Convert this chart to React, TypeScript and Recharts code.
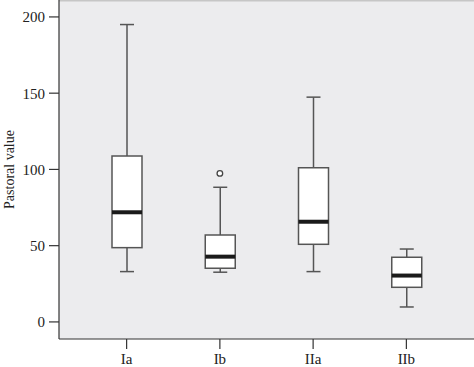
import React from 'react';
import { ComposedChart, Bar, Scatter, XAxis, YAxis, CartesianGrid, ReferenceLine } from 'recharts';

const categories = ['Ia', 'Ib', 'IIa', 'IIb'];
const whiskerLow = [33, 32.6, 33, 9.8];
const q1 = [48.7, 35.2, 50.9, 22.7];
const median = [71.9, 42.8, 65.7, 30.4];
const q3 = [108.8, 57, 101.1, 42.4];
const whiskerHigh = [195, 88.3, 147.4, 47.8];
const outliers: (number | null)[] = [null, 97.4, null, null];
const yTicks = [0, 50, 100, 150, 200];

const data = categories.map((c, i) => ({
  cat: c,
  range: [whiskerLow[i], whiskerHigh[i]],
  low: whiskerLow[i],
  q1: q1[i],
  median: median[i],
  q3: q3[i],
  high: whiskerHigh[i],
  outlier: outliers[i],
}));

const FONT = '"Liberation Serif", "Times New Roman", serif';
const STROKE = '#555';

const BoxShape = (props: any) => {
  const { x, y, width, height, payload } = props;
  if (x == null || y == null || !payload) return <g />;
  const top = Math.min(y, y + height);
  const bottom = Math.max(y, y + height);
  const lo = payload.low;
  const hi = payload.high;
  const pix = (v: number) => bottom - ((v - lo) / (hi - lo)) * (bottom - top);
  const cx = x + width / 2;
  const capHalf = 7;
  const yq1 = pix(payload.q1);
  const yq3 = pix(payload.q3);
  const ymed = pix(payload.median);
  return (
    <g>
      <line x1={cx} x2={cx} y1={top} y2={yq3} stroke={STROKE} strokeWidth={1.5} />
      <line x1={cx} x2={cx} y1={yq1} y2={bottom} stroke={STROKE} strokeWidth={1.5} />
      <line x1={cx - capHalf} x2={cx + capHalf} y1={top} y2={top} stroke={STROKE} strokeWidth={1.5} />
      <line x1={cx - capHalf} x2={cx + capHalf} y1={bottom} y2={bottom} stroke={STROKE} strokeWidth={1.5} />
      <rect x={x} y={yq3} width={width} height={yq1 - yq3} fill="#ffffff" stroke={STROKE} strokeWidth={1.5} />
      <line x1={x} x2={x + width} y1={ymed} y2={ymed} stroke="#1a1a1a" strokeWidth={4} />
    </g>
  );
};

const OutlierShape = (props: any) => {
  const { cx, cy, payload } = props;
  if (!payload || payload.outlier == null || cx == null || cy == null || isNaN(cy)) return <g />;
  return <circle cx={cx} cy={cy} r={2.8} fill="#ffffff" stroke="#444" strokeWidth={1.3} />;
};

const YLabel = (props: any) => {
  const vb = props.viewBox || { x: 0, y: 0, width: 59, height: 339 };
  const cx = 9;
  const cy = vb.y + vb.height / 2;
  return (
    <text
      x={cx}
      y={cy}
      transform={`rotate(-90 ${cx} ${cy})`}
      textAnchor="middle"
      dominantBaseline="central"
      fontFamily={FONT}
      fontSize={14}
      fill="#222"
    >
      Pastoral value
    </text>
  );
};

export default function App() {
  return (
    <div style={{ position: 'absolute', left: 0, top: 0, background: '#fff' }}>
      <ComposedChart
        width={474}
        height={367}
        data={data}
        margin={{ top: 0, right: 0, bottom: 0, left: 0 }}
      >
        <CartesianGrid fill="#ececee" horizontal={false} vertical={false} stroke="none" />
        <ReferenceLine y={211.1} stroke="#c6c6c6" strokeWidth={3} ifOverflow="extendDomain" />
        <XAxis
          dataKey="cat"
          type="category"
          height={28}
          padding={{ left: 21, right: 21 }}
          tickSize={10}
          tickMargin={4}
          axisLine={{ stroke: '#333', strokeWidth: 1.2 }}
          tickLine={{ stroke: '#333', strokeWidth: 1.2 }}
          tick={{ fontFamily: FONT, fontSize: 15, fill: '#222' }}
        />
        <YAxis
          type="number"
          domain={[-11.2, 211.1]}
          allowDataOverflow
          ticks={yTicks}
          width={59}
          tickSize={10}
          tickMargin={4}
          axisLine={{ stroke: '#333', strokeWidth: 1.2 }}
          tickLine={{ stroke: '#333', strokeWidth: 1.2 }}
          tick={{ fontFamily: FONT, fontSize: 15, fill: '#222' }}
          label={<YLabel />}
        />
        <Bar dataKey="range" barSize={30} shape={<BoxShape />} isAnimationActive={false} />
        <Scatter dataKey="outlier" shape={<OutlierShape />} isAnimationActive={false} />
      </ComposedChart>
    </div>
  );
}
